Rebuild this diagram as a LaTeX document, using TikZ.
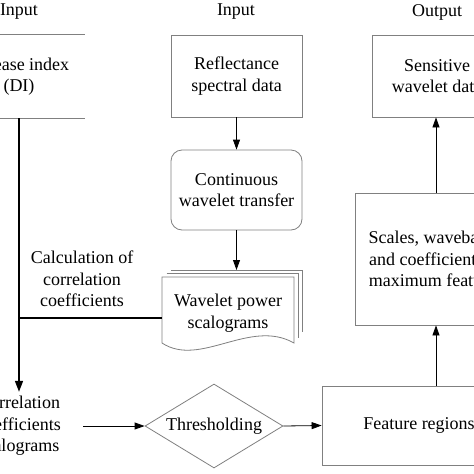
\documentclass[tikz,border=0pt]{standalone}
\usepackage{fontspec}
\setmainfont{Liberation Serif}
\usetikzlibrary{arrows.meta,shapes.geometric}
\begin{document}
\begin{tikzpicture}[x=1pt,y=-1pt,
  every node/.style={font=\fontsize{18}{21.5}\selectfont, align=center, inner sep=0pt},
  boxline/.style={draw=black!50, line width=0.8pt},
  box/.style={boxline, rectangle},
  conn/.style={draw=black, line width=0.8pt, -{Triangle[length=10pt,width=7pt]}},
  heavy/.style={draw=black, line width=1.6pt},
  heavyconn/.style={heavy, -{Triangle[length=11pt,width=8pt]}}]
\useasboundingbox (0,0) rectangle (474,474);
\fill[white] (0,0) rectangle (474,474);

% headings
\node (inL) at (19,12) {Input};
\node (inM) at (236,12) {Input};
\node (outR) at (437,12) {Output};

% left column
\node (di) at (19,76.5) [minimum width=132pt, minimum height=83pt] {Disease index\\(DI)};
\draw[boxline] (di.north west) -- (di.north east);
\draw[boxline] (di.south west) -- (di.south east);
\node (corr) at (19,426) [minimum width=128pt, minimum height=68pt] {Correlation\\coefficients\\scalograms};
\node (calc) at (82,279) {Calculation of\\correlation\\coefficients};

% middle column
\node (refl) at (236.5,76) [box, minimum width=131pt, minimum height=82pt] {Reflectance\\spectral data};
\node (cwt) at (236.5,190) [box, rounded corners=11pt, minimum width=131pt, minimum height=80pt] {Continuous\\wavelet transfer};
\coordinate (wpsT) at (236.5,270);
\coordinate (wpsL) at (162,318);
% multi-document shape
\draw[boxline] (171,270) -- (302,270) -- (302,332);
\draw[boxline] (166.5,273.5) -- (298,273.5) -- (298,338);
\draw[boxline, fill=white] (162,277) -- (294,277) -- (294,343)
   .. controls (250,318) and (200,368) .. (162,343) -- cycle;
\node (wps) at (228,313) {Wavelet power\\scalograms};
\node (thr) at (214,426) [boxline, diamond, aspect=1.64, minimum width=138pt, minimum height=84pt] {Thresholding};

% right column
\node (sens) at (437,76) [box, minimum width=130pt, minimum height=82pt] {Sensitive\\wavelet data};
\node (scales) at (436,259) [box, minimum width=162pt, minimum height=132pt] {Scales, wavebands\\and coefficients of\\maximum features};
\node (feat) at (419,425.5) [box, minimum width=194pt, minimum height=79pt] {Feature regions};

% connectors
\draw[conn] (refl.south) -- (cwt.north);
\draw[conn] (cwt.south) -- (wpsT);
\draw[heavyconn] (di.south) -- (corr.north);
\draw[heavy] (di.south |- wpsL) -- (wpsL);
\draw[conn] (corr.east) -- (thr.west);
\draw[conn] (thr.east) -- (feat.west);
\draw[conn] (scales.south |- feat.north) -- (scales.south);
\draw[conn] (scales.north) -- (scales.north |- sens.south);
\end{tikzpicture}
\end{document}
